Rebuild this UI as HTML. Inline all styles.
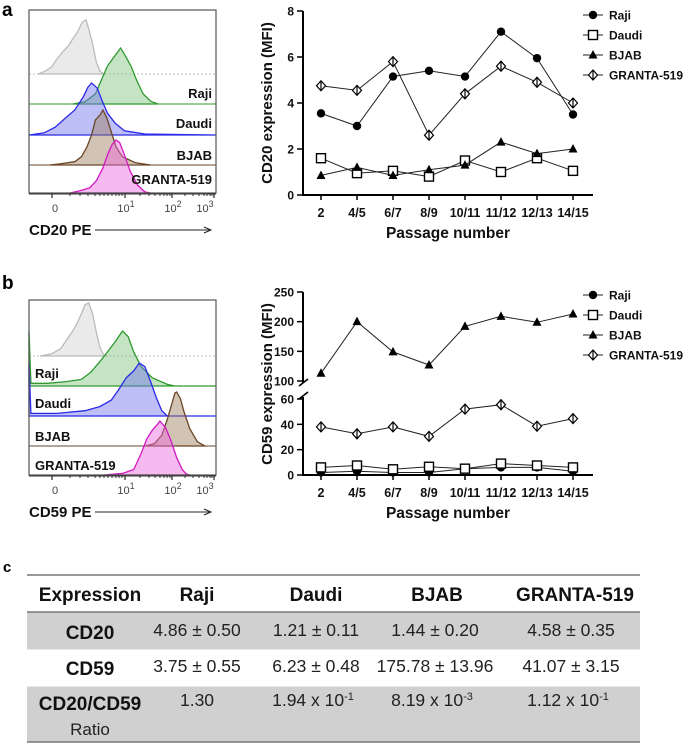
<!DOCTYPE html>
<html><head><meta charset="utf-8"><style>
html,body{margin:0;padding:0;background:#fff}
svg{display:block;font-family:"Liberation Sans",Arial,sans-serif}
</style></head><body>
<svg id="fig" width="685" height="744" viewBox="0 0 685 744" xmlns="http://www.w3.org/2000/svg">
<text x="2" y="16" font-size="19" font-weight="bold">a</text>
<text x="2" y="289" font-size="19" font-weight="bold">b</text>
<text x="3" y="572" font-size="15" font-weight="bold">c</text>
<g id="histA"></g>
<g id="histB"></g>
<g id="chartA"></g>
<g id="chartB"></g>
<g id="table">
<line x1="27" y1="575" x2="640" y2="575" stroke="#777" stroke-width="1.5"/>
<rect x="27" y="612" width="613" height="38" fill="#d0d0d0"/>
<rect x="27" y="686" width="613" height="56" fill="#d0d0d0"/>
<line x1="27" y1="612" x2="640" y2="612" stroke="#777" stroke-width="1.5"/>
<line x1="27" y1="650" x2="640" y2="650" stroke="#fff" stroke-width="1"/>
<line x1="27" y1="686" x2="640" y2="686" stroke="#fff" stroke-width="1"/>
<line x1="27" y1="742" x2="640" y2="742" stroke="#777" stroke-width="1.5"/>
<g font-size="19" font-weight="bold" text-anchor="middle" fill="#111">
<text x="90" y="601">Expression</text>
<text x="197" y="601">Raji</text>
<text x="316" y="601">Daudi</text>
<text x="437" y="601">BJAB</text>
<text x="575" y="601">GRANTA-519</text>
<text x="90" y="639">CD20</text>
<text x="90" y="675">CD59</text>
<text x="90" y="710">CD20/CD59</text>
</g>
<text x="90" y="735" font-size="17" text-anchor="middle" fill="#222">Ratio</text>
<g font-size="17.5" text-anchor="middle" fill="#222">
<text x="197" y="636">4.86 ± 0.50</text><text x="316" y="636">1.21 ± 0.11</text><text x="435" y="636">1.44 ± 0.20</text><text x="571" y="636">4.58 ± 0.35</text>
<text x="197" y="672">3.75 ± 0.55</text><text x="316" y="672">6.23 ± 0.48</text><text x="435" y="672">175.78 ± 13.96</text><text x="571" y="672">41.07 ± 3.15</text>
<text x="197" y="706">1.30</text>
<text x="313" y="706">1.94 x 10<tspan font-size="11" dy="-6">-1</tspan></text>
<text x="432" y="706">8.19 x 10<tspan font-size="11" dy="-6">-3</tspan></text>
<text x="568" y="706">1.12 x 10<tspan font-size="11" dy="-6">-1</tspan></text>
</g>
</g>
</svg>
<script>
const NS="http://www.w3.org/2000/svg";
const categories=["2","4/5","6/7","8/9","10/11","11/12","12/13","14/15"];
const seriesNames=["Raji","Daudi","BJAB","GRANTA-519"];
const cd20Raji=[3.55,3.0,5.15,5.4,5.15,7.1,5.95,3.5];
const cd20Daudi=[1.6,0.95,1.05,0.8,1.5,1.0,1.6,1.05];
const cd20BJAB=[0.85,1.2,0.85,1.1,1.3,2.3,1.8,2.0];
const cd20Granta=[4.75,4.55,5.8,2.6,4.4,5.6,4.9,4.0];
const cd20Ticks=[0,2,4,6,8];
const cd59Raji=[2,3,2,2,5,6,6,3];
const cd59Daudi=[6,7.5,4.5,6.5,5,9,7.5,6];
const cd59BJAB=[113,200,149,127,192,209,199,213];
const cd59Granta=[38,32.5,38,30.5,52,55.5,38.5,44.5];
const cd59TicksLow=[0,20,40,60];
const cd59TicksHigh=[100,150,200,250];
const hA_gray=[[.05,0],[.09,.06],[.12,.13],[.15,.28],[.18,.41],[.21,.52],[.23,.63],[.26,.78],[.285,.96],[.305,1],[.32,.83],[.34,.56],[.36,.22],[.38,.05],[.40,0]];
const hA_raji=[[.235,0],[.30,.04],[.355,.18],[.39,.45],[.42,.68],[.45,.82],[.475,.93],[.49,1],[.51,.89],[.545,.68],[.575,.43],[.61,.18],[.65,.05],[.69,0]];
const hA_daudi=[[0,0],[.08,.04],[.14,.15],[.19,.31],[.245,.48],[.29,.73],[.315,.92],[.335,1],[.365,.9],[.39,.67],[.42,.42],[.46,.23],[.51,.08],[.62,.02],[1,0]];
const hA_bjab=[[.11,0],[.165,.02],[.245,.06],[.28,.15],[.31,.33],[.335,.55],[.355,.82],[.38,.91],[.395,1],[.415,.87],[.44,.6],[.465,.33],[.5,.15],[.57,.04],[.65,0]];
const hA_granta=[[.22,0],[.27,.04],[.325,.1],[.36,.23],[.395,.47],[.42,.72],[.445,.92],[.465,1],[.485,.95],[.51,.72],[.54,.42],[.58,.15],[.62,.02],[.65,0]];
const hB_gray=[[.06,0],[.12,.04],[.17,.14],[.2,.3],[.23,.45],[.255,.6],[.28,.8],[.3,.97],[.32,1],[.34,.8],[.36,.45],[.38,.15],[.4,.02],[.42,0]];
const hB_raji=[[0,1],[.01,.05],[.1,.05],[.2,.08],[.28,.12],[.33,.25],[.38,.45],[.42,.62],[.46,.8],[.5,1],[.53,.9],[.56,.62],[.6,.35],[.66,.15],[.74,.03],[.78,0],[1,0]];
const hB_daudi=[[0,1],[.01,.05],[.15,.05],[.3,.1],[.38,.18],[.44,.3],[.48,.5],[.52,.72],[.56,.85],[.59,1],[.62,.93],[.65,.65],[.68,.35],[.71,.1],[.74,0],[1,0]];
const hB_bjab=[[.62,0],[.67,.04],[.71,.2],[.74,.5],[.765,.8],[.78,.98],[.79,1],[.81,.87],[.83,.62],[.86,.32],[.9,.08],[.94,0]];
const hB_granta=[[.4,0],[.5,.03],[.56,.1],[.6,.4],[.63,.67],[.66,.83],[.69,.95],[.7,1],[.73,.88],[.76,.63],[.79,.32],[.82,.1],[.84,.02],[.86,0]];

function mk(tag,attrs,parent){const e=document.createElementNS(NS,tag);for(const k in attrs)e.setAttribute(k,attrs[k]);parent.appendChild(e);return e;}

function drawHist(g,box,tracks,labels,labelLeft,axisLabel){
  const xs=p=>box.x0+p*(box.x1-box.x0);
  tracks.forEach((t,i)=>{
    const hs=v=>t.base-v*t.h;
    let d="M"+xs(t.pts[0][0])+","+t.base;
    t.pts.forEach(p=>{d+=" L"+xs(p[0]).toFixed(1)+","+hs(p[1]).toFixed(1);});
    d+=" L"+xs(t.pts[t.pts.length-1][0])+","+t.base+" Z";
    const p=mk("path",{d:d,fill:t.fill,"fill-opacity":t.op,stroke:t.stroke,"stroke-width":1.3},g);
    
    
    const bl=mk("line",{x1:box.x0,x2:box.x1,y1:t.base,y2:t.base,stroke:t.stroke,"stroke-width":1,"stroke-dasharray":t.dash||"none"},g);
    
    
  });
  const r=mk("rect",{x:box.x0,y:box.y0,width:box.x1-box.x0,height:box.y1-box.y0,fill:"none",stroke:"#555","stroke-width":1.2},g);
  
  
  labels.forEach(l=>{
    const t=mk("text",{x:labelLeft?box.x0+6:box.x1-4,y:l.y,"font-size":13,"font-weight":"bold","text-anchor":labelLeft?"start":"end",fill:"#111"},g);
    t.textContent=l.t;
    
    
  });
  const ay=box.y1;
  const majors=[52,125,172,214];
  const minors=[70,80,88,95,100,104,108,112,116,119,122,140,149,155,160,164,167,170,185,193,199,204,207,210,212];
  majors.forEach(x=>mk("line",{x1:x,x2:x,y1:ay,y2:ay+5,stroke:"#333","stroke-width":1.3},g));
  minors.forEach(x=>mk("line",{x1:x,x2:x,y1:ay,y2:ay+3,stroke:"#333","stroke-width":1},g));
  mk("line",{x1:29,x2:216,y1:ay+1,y2:ay+1,stroke:"#333","stroke-width":1},g);
  const tl=[["0",55,""],["10",126,"1"],["10",173,"2"],["10",205,"3"]];
  tl.forEach(a=>{const t=mk("text",{x:a[1],y:ay+19,"font-size":11,fill:"#444","text-anchor":"middle"},g);t.textContent=a[0];
    if(a[2]){const s=mk("tspan",{"font-size":9,dy:-5},t);s.textContent=a[2];}
    
    });
  const xt=mk("text",{x:29,y:ay+42,"font-size":15,"font-weight":"bold",fill:"#111"},g);
  xt.textContent=axisLabel;
  
  
  mk("line",{x1:95,x2:210,y1:ay+37,y2:ay+37,stroke:"#222","stroke-width":1},g);
  mk("path",{d:`M204,${ay+34} L211,${ay+37} L204,${ay+40}`,fill:"none",stroke:"#222","stroke-width":1},g);
}

drawHist(document.getElementById("histA"),{x0:29,x1:216,y0:10,y1:193},[
 {name:"control",pts:hA_gray,base:74,h:54,fill:"#d8d8d8",op:.55,stroke:"#bbb",dash:"2,2"},
 {name:"raji",pts:hA_raji,base:104,h:56,fill:"#7cc47c",op:.45,stroke:"#2f9a2f"},
 {name:"daudi",pts:hA_daudi,base:135,h:52,fill:"#7070ee",op:.45,stroke:"#2a2ae8"},
 {name:"bjab",pts:hA_bjab,base:165,h:55,fill:"#9b7c5c",op:.45,stroke:"#6a4528"},
 {name:"granta",pts:hA_granta,base:193,h:53,fill:"#ee66dd",op:.45,stroke:"#d018c0"}],
 [{t:"Raji",y:98},{t:"Daudi",y:128},{t:"BJAB",y:160},{t:"GRANTA-519",y:184}],false,"CD20 PE");

drawHist(document.getElementById("histB"),{x0:29,x1:216,y0:300,y1:475},[
 {name:"control",pts:hB_gray,base:356,h:53,fill:"#d8d8d8",op:.55,stroke:"#bbb",dash:"2,2"},
 {name:"raji",pts:hB_raji,base:386,h:55,fill:"#7cc47c",op:.45,stroke:"#2f9a2f"},
 {name:"daudi",pts:hB_daudi,base:416,h:53,fill:"#7070ee",op:.45,stroke:"#2a2ae8"},
 {name:"bjab",pts:hB_bjab,base:446,h:54,fill:"#9b7c5c",op:.45,stroke:"#6a4528"},
 {name:"granta",pts:hB_granta,base:475,h:54,fill:"#ee66dd",op:.45,stroke:"#d018c0"}],
 [{t:"Raji",y:378},{t:"Daudi",y:408},{t:"BJAB",y:441},{t:"GRANTA-519",y:470}],true,"CD59 PE");

function xScale(i){return 321+i*36;}

function marker(g,type,x,y,name){
  let e;
  if(type===0) e=mk("circle",{cx:x,cy:y,r:4.2,fill:"#000"},g);
  else if(type===1) e=mk("rect",{x:x-4.5,y:y-4.5,width:9,height:9,fill:"#fff",stroke:"#000","stroke-width":1.4},g);
  else if(type===2) e=mk("path",{d:`M${x},${y-5} L${x+4.5},${y+3.5} L${x-4.5},${y+3.5} Z`,fill:"#000"},g);
  else {e=mk("path",{d:`M${x},${y-5} L${x+4.5},${y} L${x},${y+5} L${x-4.5},${y} Z M${x},${y-5} L${x},${y+5}`,fill:"#fff",stroke:"#000","stroke-width":1.2},g);}
  
  
}

function drawSeries(g,vals,yS,type,name){
  let d="";vals.forEach((v,i)=>{d+=(i?" L":"M")+xScale(i)+","+yS(v).toFixed(1);});
  const p=mk("path",{d:d,fill:"none",stroke:"#222","stroke-width":1},g);
  
  
  vals.forEach((v,i)=>marker(g,type,xScale(i),yS(v),'point-'+name+'-'+i));
}

function drawLegend(g,y0){
  seriesNames.forEach((n,i)=>{
    const y=y0+i*20;
    mk("line",{x1:583,x2:603,y1:y,y2:y,stroke:"#222","stroke-width":1},g);
    marker(g,i,593,y,'legend-marker-'+n.toLowerCase());
    const t=mk("text",{x:609,y:y+4.5,"font-size":12,"font-weight":"bold",fill:"#111"},g);
    if(n.length>5) t.setAttribute("textLength","74");
    t.textContent=n;
    
    
  });
}

function drawXAxis(g,y){
  mk("line",{x1:303,x2:593,y1:y,y2:y,stroke:"#000","stroke-width":2},g);
  categories.forEach((c,i)=>{
    mk("line",{x1:xScale(i),x2:xScale(i),y1:y,y2:y+5,stroke:"#000","stroke-width":1.5},g);
    const t=mk("text",{x:xScale(i),y:y+22,"font-size":12.5,"font-weight":"bold","text-anchor":"middle",fill:"#111"},g);
    t.textContent=c;
    
    
  });
  const t=mk("text",{x:448,y:y+43,"font-size":15.5,"font-weight":"bold","text-anchor":"middle",fill:"#111"},g);
  t.textContent="Passage number";
  
  
}

function yTicks(g,ticks,yS){
  ticks.forEach(v=>{
    mk("line",{x1:297,x2:303,y1:yS(v),y2:yS(v),stroke:"#000","stroke-width":1.5},g);
    const t=mk("text",{x:294,y:yS(v)+4.5,"font-size":12,"font-weight":"bold","text-anchor":"end",fill:"#111"},g);
    t.textContent=v;
    
    
  });
}

function yTitle(g,txt,cy){
  const t=mk("text",{x:0,y:0,"font-size":15,"font-weight":"bold","text-anchor":"middle",fill:"#111",transform:`translate(272,${cy}) rotate(-90)`},g);
  t.textContent=txt;
  
  
}

(function(){
  const g=document.getElementById("chartA");
  const yS=v=>195-v*23;
  mk("line",{x1:303,x2:303,y1:yS(8),y2:196,stroke:"#000","stroke-width":2},g);
  yTicks(g,cd20Ticks,yS);
  drawXAxis(g,195);
  yTitle(g,"CD20 expression (MFI)",103);
  drawSeries(g,cd20Raji,yS,0,"raji");
  drawSeries(g,cd20Daudi,yS,1,"daudi");
  drawSeries(g,cd20BJAB,yS,2,"bjab");
  drawSeries(g,cd20Granta,yS,3,"granta");
  drawLegend(g,15);
})();
(function(){
  const g=document.getElementById("chartB");
  const yS=v=>v>=100?381-(v-100)*89/150:475-v*76/60;
  mk("line",{x1:303,x2:303,y1:yS(250),y2:383,stroke:"#000","stroke-width":2},g);
  mk("line",{x1:303,x2:303,y1:397,y2:476,stroke:"#000","stroke-width":2},g);
  mk("line",{x1:299,x2:308,y1:386,y2:379,stroke:"#000","stroke-width":1.6},g);
  mk("line",{x1:299,x2:308,y1:399,y2:392,stroke:"#000","stroke-width":1.6},g);
  yTicks(g,cd59TicksHigh,yS);
  yTicks(g,cd59TicksLow,yS);
  drawXAxis(g,475);
  yTitle(g,"CD59 expression (MFI)",384);
  drawSeries(g,cd59Raji,yS,0,"raji");
  drawSeries(g,cd59Daudi,yS,1,"daudi");
  drawSeries(g,cd59BJAB,yS,2,"bjab");
  drawSeries(g,cd59Granta,yS,3,"granta");
  drawLegend(g,295);
})();
</script>
</body></html>
